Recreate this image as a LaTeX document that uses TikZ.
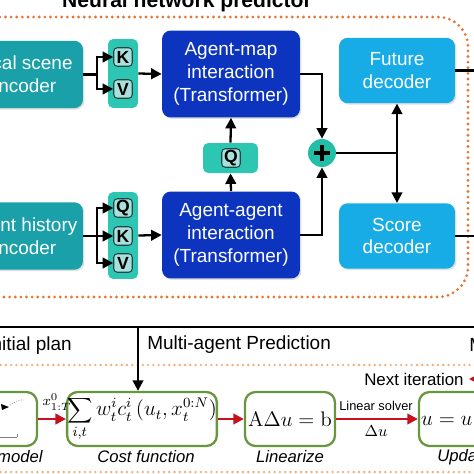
\documentclass[tikz,border=0pt]{standalone}
\usepackage[no-math]{fontspec}
\setmainfont{Liberation Sans}
\usetikzlibrary{arrows.meta,shadows}
\definecolor{encteal}{RGB}{25,160,168}
\definecolor{kvteal}{RGB}{44,198,178}
\definecolor{kvlight}{RGB}{170,224,220}
\definecolor{keyline}{RGB}{30,70,70}
\definecolor{plusteal}{RGB}{34,190,168}
\definecolor{tfblue}{RGB}{12,52,190}
\definecolor{decblue}{RGB}{24,172,230}
\definecolor{dotorange}{RGB}{224,122,58}
\definecolor{lineorange}{RGB}{242,172,122}
\definecolor{plangreen}{RGB}{104,150,60}
\definecolor{arrred}{RGB}{200,16,30}
\begin{document}
\begin{tikzpicture}[x=0.02cm,y=-0.02cm,
    blk/.style={rounded corners=5pt, align=center, text=white, inner sep=0pt,
      font=\fontsize{10.8}{13}\selectfont,
      drop shadow={opacity=0.25, shadow xshift=0.8pt, shadow yshift=-0.8pt}},
    enc/.style={blk, fill=encteal, minimum width=2.44cm, minimum height=1.35cm},
    tfm/.style={blk, fill=tfblue, minimum width=2.76cm, minimum height=1.74cm},
    dec/.style={blk, fill=decblue, minimum width=2.32cm, minimum height=1.31cm},
    hold/.style={fill=kvteal, rounded corners=3pt, minimum width=0.6cm, inner sep=0pt},
    key/.style={draw=keyline, fill=kvlight, rounded corners=2pt, line width=0.6pt,
      minimum size=0.37cm, inner sep=0pt, font=\fontsize{10}{10}\selectfont\bfseries},
    plan/.style={draw=plangreen, line width=1.3pt, fill=white, rounded corners=6pt,
      minimum height=1.08cm, inner sep=0pt, font=\fontsize{11.5}{13}\selectfont},
    undertext/.style={inner sep=0pt, font=\fontsize{9.5}{11}\selectfont\itshape},
    lbl/.style={inner sep=0pt, font=\fontsize{10.8}{13}\selectfont},
    arr/.style={line width=1.3pt, -{Triangle[length=6pt,width=6pt]}},
    rarr/.style={line width=1.4pt, draw=arrred, -{Triangle[length=6pt,width=6pt]}},
]
\useasboundingbox (0,0) rectangle (474,474);
\clip (0,0) rectangle (474,474);

% predictor frame
\draw[dotorange, line width=1.8pt, line cap=round, dash pattern=on 0pt off 3.2pt,
  rounded corners=0.6cm] (-40,17) rectangle (468,297);
\node[inner sep=0pt, anchor=base, font=\fontsize{12}{12}\selectfont\bfseries] (title)
  at (187,7) {Neural network predictor};

% encoders
\node[enc] (scene) at (22,74.5) {Local scene\\encoder};
\node[enc] (hist) at (22,236) {Agent history\\encoder};

% key / value / query holders
\node[hold, minimum height=1.38cm] (kvs) at (123,73.5) {};
\node[key] (ks) at (123,57) {K};
\node[key] (vs) at (123,89) {V};
\node[hold, minimum height=1.74cm] (kvh) at (123,235.5) {};
\node[key] (qh) at (123,208) {Q};
\node[key] (kh) at (123,236) {K};
\node[key] (vh) at (123,263) {V};
\node[hold, minimum width=1.1cm, minimum height=0.6cm] (qbox) at (230.5,158) {};
\node[key] (qq) at (231,158) {Q};

% transformers and decoders
\node[tfm] (mapint) at (231,74) {Agent-map\\interaction\\(Transformer)};
\node[tfm] (agint) at (231,235) {Agent-agent\\interaction\\(Transformer)};
\node[circle, fill=plusteal, minimum size=0.56cm, inner sep=0pt,
  path picture={
    \draw[line width=2.8pt] ([xshift=-4.8pt]path picture bounding box.center)
      -- ([xshift=4.8pt]path picture bounding box.center);
    \draw[line width=2.8pt] ([yshift=-4.8pt]path picture bounding box.center)
      -- ([yshift=4.8pt]path picture bounding box.center);}] (plus) at (322,153) {};
\node[dec] (future) at (397,70.5) {Future\\decoder};
\node[dec] (score) at (397,236) {Score\\decoder};

% predictor connections
\draw[line width=1.3pt] (scene.east) -- ++(14,0) coordinate (sbr);
\draw[arr] (sbr) |- (ks.west);
\draw[arr] (sbr) |- (vs.west);
\draw[line width=1.3pt] (hist.east) -- ++(14,0) coordinate (hbr);
\draw[arr] (hbr) |- (qh.west);
\draw[arr] (hbr) -- (kh.west);
\draw[arr] (hbr) |- (vh.west);
\draw[arr] (kvs.east) -- (mapint.west);
\draw[arr] (kvh.east) -- (agint.west);
\draw[arr] (agint.north) -- (qbox.south);
\draw[arr] (qbox.north) -- (mapint.south);
\draw[arr] (mapint.east) -| (plus.north);
\draw[arr] (agint.east) -| (plus.south);
\coordinate (split) at (397,153);
\draw[line width=1.3pt] (plus.east) -- (split);
\draw[arr] (split) -- (future.south);
\draw[arr] (split) -- (score.north);
\coordinate (fout) at (485,70.5);
\coordinate (sout) at (485,236);
\draw[line width=1.3pt] (future.east) -- (fout);
\draw[line width=1.3pt] (score.east) -- (sout);

% planner strip
\coordinate (hl) at (-10,327);
\coordinate (hr) at (485,327);
\coordinate (vtop) at (138,327);
\draw[line width=1.3pt] (hl) -- (hr);
\node[lbl, anchor=west] (init) at (-14,346) {Initial plan};
\node[lbl, anchor=west] (multi) at (147,345) {Multi-agent Prediction};
\node[lbl, anchor=west] (mcut) at (469,345) {M};
\draw[lineorange, line width=1.5pt, line cap=round, dash pattern=on 0pt off 3pt]
  (-10,365) -- (485,365);
\draw[lineorange, line width=1.5pt, line cap=round, dash pattern=on 0pt off 3pt]
  (-10,472) -- (485,472);

\node[plan, minimum width=2.14cm] (model) at (-16.5,419) {};
\fill (1,404) -- (9,407) -- (2,410) -- cycle;
\draw[gray, densely dotted] (10,405) .. controls (14,403) and (18,399) .. (24,400);
\draw[gray, line width=0.5pt] (-5,437) -- (17,437);
\draw[gray, line width=0.5pt] (17,434) -- (17,437);
\node[plan, minimum width=2.64cm] (cost) at (142,419)
  {$\displaystyle\sum_{i,t} w_t^i c_t^i\,(u_t, x_t^{0:N})$};
\node[plan, minimum width=1.8cm] (lin) at (290,419) {$\mathrm{A}\Delta u = \mathrm{b}$};
\node[plan, minimum width=2.2cm] (upd) at (474,419) {$u = u + \Delta u$};

\node[undertext, anchor=east] (modelcap) at (43,457) {Kinematic model};
\node[undertext] (costcap) at (146,457) {Cost function};
\node[undertext] (lincap) at (290,457) {Linearize};
\node[undertext, anchor=west] (updcap) at (437,457) {Update};

\draw[arr] (vtop) -- (vtop |- cost.north);
\draw[rarr] (model.east) -- (cost.west);
\node[inner sep=0pt, font=\fontsize{8.5}{9}\selectfont] (xlab) at (57,402) {$x^0_{1:T}$};
\draw[rarr] (cost.east) -- (lin.west);
\draw[rarr] (lin.east) -- (upd.west);
\node[inner sep=0pt, font=\fontsize{7.3}{8}\selectfont] (solver) at (376,406) {Linear solver};
\node[inner sep=0pt, font=\fontsize{9}{9}\selectfont] (du) at (376,431) {$\Delta u$};
\node[inner sep=0pt, anchor=east, font=\fontsize{9.6}{11}\selectfont] (next) at (464,379) {Next iteration};
\coordinate (nxr) at (500,379);
\coordinate (nxt) at (469,379);
\draw[rarr] (nxr) -- (nxt);
\end{tikzpicture}
\end{document}
